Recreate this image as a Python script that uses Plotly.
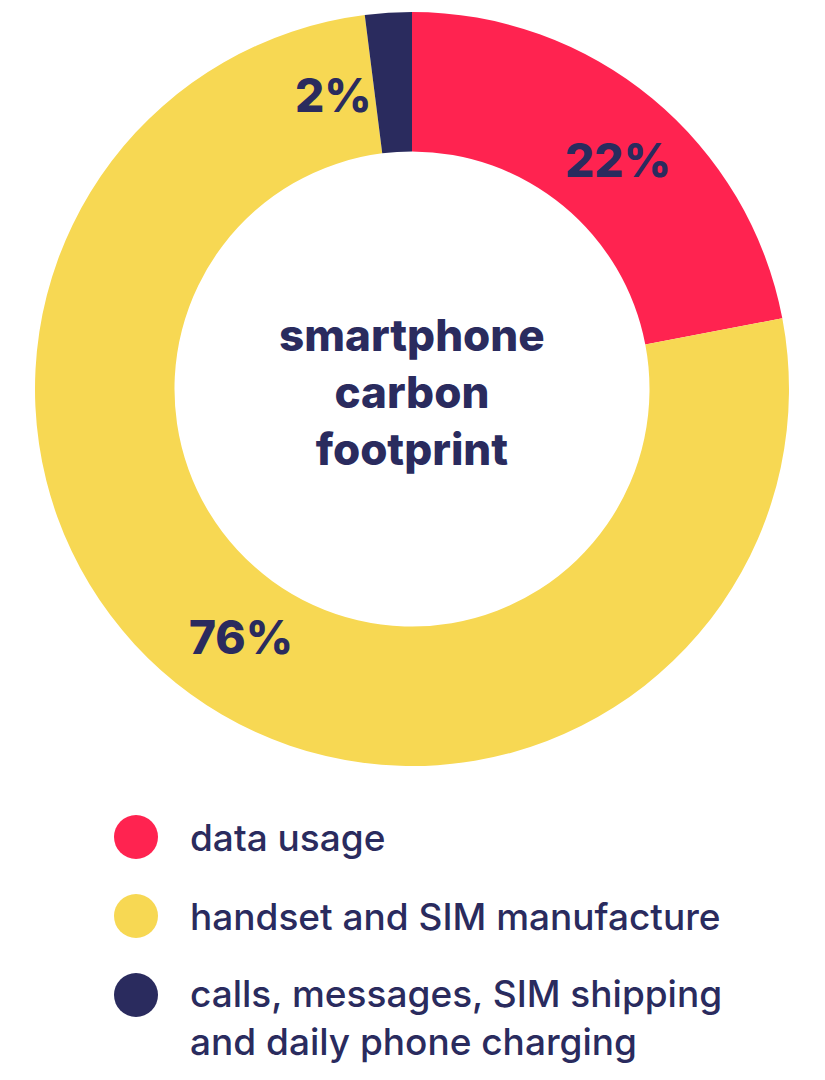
import plotly.graph_objects as go

categories = ["data usage", "handset and SIM manufacture", "calls, messages, SIM shipping<br>and daily phone charging"]
values = [22, 76, 2]
colors = ["#FF2350", "#F7D853", "#2A2B5E"]
pct_labels = ["22%", "76%", "2%"]
center_title = "smartphone<br>carbon<br>footprint"

NAVY = "#2A2B5E"
W, H = 825, 1080

fig = go.Figure()
fig.add_trace(go.Pie(
    labels=categories,
    values=values,
    marker=dict(colors=colors, line=dict(width=0)),
    hole=0.63,
    sort=False,
    direction="clockwise",
    rotation=0,
    textinfo="none",
    domain=dict(x=[(412 - 377) / W, (412 + 377) / W], y=[1 - 766 / H, 1 - 12 / H]),
    showlegend=False,
    hoverinfo="label+percent",
))

# percentage labels
label_pos = [(618, 160), (241, 637), (333, 95)]
for lab, (px, py) in zip(pct_labels, label_pos):
    fig.add_annotation(x=px / W, y=1 - py / H, xref="paper", yref="paper",
                       xanchor="center", yanchor="middle",
                       text=lab, showarrow=False,
                       font=dict(family="Inter", size=46, color=NAVY, weight=800))

# centre title
fig.add_annotation(x=412 / W, y=1 - 392 / H, xref="paper", yref="paper",
                   xanchor="center", yanchor="middle",
                   text=center_title, showarrow=False,
                   font=dict(family="Inter", size=44, color=NAVY, weight=800))

# custom legend
leg_y = [837, 916, 995]
LH = 46
for cat, col, yy in zip(categories, colors, leg_y):
    fig.add_shape(type="circle", xref="paper", yref="paper",
                  x0=(136 - 22) / W, x1=(136 + 22) / W,
                  y0=1 - (yy + 22) / H, y1=1 - (yy - 22) / H,
                  fillcolor=col, line=dict(width=0))
    nlines = cat.count("<br>") + 1
    fig.add_annotation(x=188 / W, y=1 - (yy + (nlines - 1) * LH / 2) / H,
                       xref="paper", yref="paper",
                       xanchor="left", yanchor="middle", align="left",
                       text=cat, showarrow=False,
                       font=dict(family="Inter", size=37, color=NAVY, weight=500))

fig.update_layout(width=W, height=H, margin=dict(l=0, r=0, t=0, b=0),
                  paper_bgcolor="white", plot_bgcolor="white")
fig.write_html("out.html", config={"displayModeBar": False},
               post_script="document.body.style.margin='0';")
